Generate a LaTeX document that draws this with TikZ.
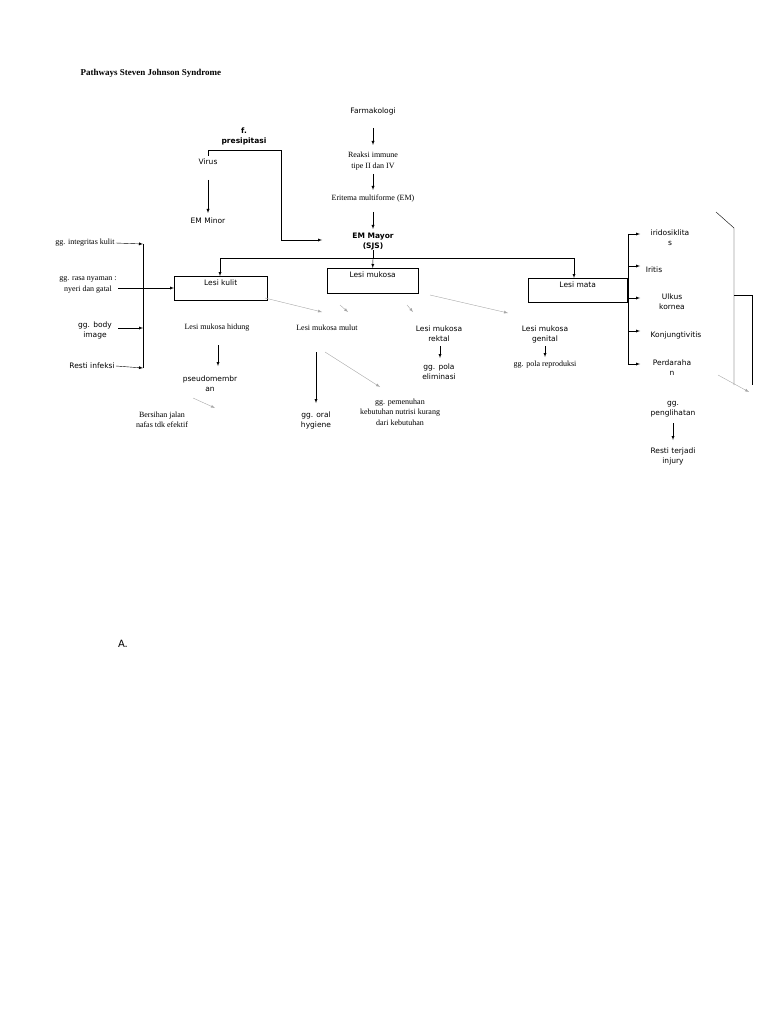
\documentclass[tikz,border=0pt]{standalone}
\usepackage{fontspec}
\setmainfont{Liberation Serif}
\newfontfamily\dv{DejaVu Sans}
\usetikzlibrary{arrows}

\begin{document}
\begin{tikzpicture}[x=1pt,y=-1pt,>=latex,
    sf/.style={font=\dv\fontsize{7.5}{10}\selectfont,align=center,inner sep=1pt},
    rm/.style={font=\fontsize{8}{10.5}\selectfont,align=center,inner sep=1pt},
    box/.style={draw,sf,minimum height=24pt,anchor=north west},
    faint/.style={->,gray!70,thin}]
    \useasboundingbox (0,0) rectangle (768,1024);

    % title and top chain
    \node[font=\bfseries\fontsize{9}{11}\selectfont,anchor=west] (title) at (77,73) {Pathways Steven Johnson Syndrome};
    \node[sf] (farm) at (373,111) {Farmakologi};
    \node[rm] (reaksi) at (373,161) {Reaksi immune\\tipe II dan IV};
    \node[rm] (erit) at (373,199) {Eritema multiforme (EM)};
    \node[sf,font=\dv\bfseries\fontsize{7.5}{10}\selectfont] (mayor) at (373,242) {EM Mayor\\(SJS)};
    \draw[->] (373,128) -- (373,145);
    \draw[->] (373,174) -- (373,190);
    \draw[->] (373,212) -- (373,229);

    % presipitasi
    \node[sf,font=\dv\bfseries\fontsize{7.5}{10}\selectfont] (fp) at (244,136) {f.\\presipitasi};
    \node[sf] (virus) at (208,162) {Virus};
    \node[sf] (minor) at (208,221) {EM Minor};
    \draw[->] (208,180) -- (208,213);
    \draw[->] (208,156) -- (208,150) -- (281,150) -- (281,240) -- (322,240);

    % three boxes
    \node[box,minimum width=93pt] (kulit) at (174,276) {};
    \node[sf,anchor=north] at ([yshift=-3pt]kulit.north) {Lesi kulit};
    \node[box,minimum width=91pt,minimum height=25pt] (mukosa) at (327,268) {};
    \node[sf,anchor=north] at ([yshift=-3pt]mukosa.north) {Lesi mukosa};
    \node[box,minimum width=99pt] (mata) at (528,278) {};
    \node[sf,anchor=north] at ([yshift=-3pt]mata.north) {Lesi mata};
    \draw (373,250) -- (373,258);
    \draw[->] (220,258) -- (kulit.north -| 220,0);
    \draw[->] (373,258) -- (mukosa.north);
    \draw[->] (220,258) -- (574,258) -- (mata.north -| 574,0);

    % left side
    \node[rm] (integ) at (85,243) {gg. integritas kulit};
    \node[rm] (nyaman) at (88,285) {gg. rasa nyaman :\\nyeri dan gatal};
    \node[sf] (body) at (95,330) {gg. body\\image};
    \node[sf] (resti) at (92,366) {Resti infeksi};
    \draw (143,244) -- (143,368);
    \draw[->] (integ.east) -- (143,244);
    \draw[->] (118,288) -- (kulit.west |- 0,288);
    \draw[->] (118,328) -- (143,328);
    \draw[->] (resti.east) -- (143,368);

    % mucosa branches
    \node[rm] (hidung) at (217,328) {Lesi mukosa hidung};
    \node[rm] (mulut) at (327,328) {Lesi mukosa mulut};
    \node[sf] (rektal) at (439,334) {Lesi mukosa\\rektal};
    \node[sf] (genital) at (545,334) {Lesi mukosa\\genital};
    \draw[faint] (265,298) -- (322,312);
    \draw[faint] (340,305) -- (348,312);
    \draw[faint] (407,305) -- (413,312);
    \draw[faint] (430,295) -- (508,313);

    \node[sf] (pseudo) at (210,384) {pseudomembr\\an};
    \node[rm] (bersih) at (162,420) {Bersihan jalan\\nafas tdk efektif};
    \draw[->] (218,345) -- (218,366);
    \draw[faint] (193,398) -- (215,408);

    \node[sf] (oral) at (316,420) {gg. oral\\hygiene};
    \node[rm] (nutrisi) at (400,412) {gg. pemenuhan\\kebutuhan nutrisi kurang\\dari kebutuhan};
    \draw[->] (316,352) -- (316,403);
    \draw[faint] (325,352) -- (380,387);

    \node[sf] (elim) at (439,372) {gg. pola\\eliminasi};
    \draw[->] (440,346) -- (440,358);
    \node[rm] (repro) at (545,365) {gg. pola reproduksi};
    \draw[->] (545,346) -- (545,357);

    % eye branches
    \draw (mata.east |- 0,290) -- (628,290);
    \draw (628,234) -- (628,364);
    \foreach \yy/\name/\txt/\xx in {234/irido/{iridosiklita\\s}/670, 266/iritis/Iritis/654,
        298/ulkus/{Ulkus\\kornea}/672, 331/konj/Konjungtivitis/676, 364/perd/{Perdaraha\\n}/672}
      {\node[sf] (\name) at (\xx,\yy+4) {\txt};
       \draw[->] (628,\yy) -- (640,\yy);}

    \draw (716,212) -- (734,228) -- (734,385);
    \draw (734,295) -- (752,295) -- (752,385);
    \draw[faint] (718,375) -- (749,392);

    \node[sf] (lihat) at (673,409) {gg.\\penglihatan};
    \node[sf] (injury) at (673,456) {Resti terjadi\\injury};
    \draw[->] (673,423) -- (673,440);

    \node[sf,font=\dv\fontsize{10}{12}\selectfont] (a) at (123,644) {A.};
\end{tikzpicture}
\end{document}
